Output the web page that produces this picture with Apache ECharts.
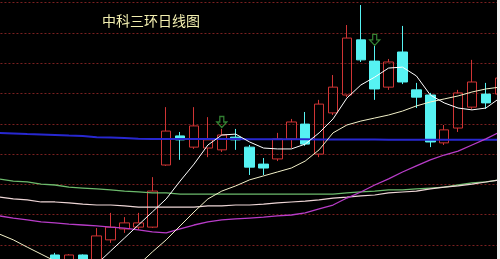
<!DOCTYPE html>
<html><head><meta charset="utf-8">
<script src="https://cdn.jsdelivr.net/npm/echarts@6/dist/echarts.min.js"></script>
<style>html,body{margin:0;padding:0;background:#000;}#c{width:500px;height:259px;}</style>
</head><body><div id="c"></div>
<script>
const days = ['D01','D02','D03','D04','D05','D06','D07','D08','D09','D10','D11','D12','D13','D14','D15','D16','D17','D18','D19','D20','D21','D22','D23','D24','D25','D26','D27','D28','D29','D30','D31','D32','D33','D34','D35','D36','D37'];
// [open, close, low, high]
const candles = ['-','-','-','-',
  [8.67,8.44,8.34,8.74],[8.44,8.67,8.34,8.70],[8.67,8.44,8.34,8.69],[8.44,9.30,8.34,9.56],
  [9.17,9.59,9.07,10.06],[9.53,9.73,9.40,9.92],[9.59,9.73,9.50,10.06],[9.59,10.78,9.56,11.24],
  [11.64,12.76,11.61,13.55],[12.60,12.47,11.81,12.73],[12.23,12.93,12.17,13.55],[12.20,12.47,11.90,13.22],
  [12.14,12.63,12.07,12.83],[12.56,12.47,12.14,12.83],[12.23,11.57,11.31,12.30],[11.67,11.54,11.31,11.87],
  [11.84,12.50,11.77,12.70],[12.50,13.06,12.20,13.16],[12.99,12.33,12.27,13.39],[12.00,13.65,11.90,13.79],
  [13.36,14.21,13.29,14.61],[13.95,15.83,13.88,16.26],[15.77,15.11,15.04,16.92],[15.07,14.15,13.79,15.57],
  [14.21,15.04,14.12,15.14],[15.37,14.38,14.31,16.23],[14.12,13.88,13.52,14.35],[13.95,12.40,12.23,14.02],
  [12.37,12.80,12.30,12.96],[12.86,14.02,12.73,14.12],[13.55,14.38,13.49,15.11],[13.98,13.69,13.49,14.35],
  [13.98,14.51,13.92,14.78]];
const ma5 = [8.24,8.24,8.24,8.24,8.31,8.31,8.34,8.37,8.80,9.23,9.66,10.09,10.52,11.11,11.67,12.30,12.63,12.66,12.40,12.20,12.17,12.17,12.33,12.70,13.16,13.85,14.28,14.54,14.84,14.87,14.58,13.95,13.69,13.52,13.46,13.52,13.85];
const ma10 = [9.36,9.17,8.93,8.70,8.47,8.31,8.17,8.11,8.11,8.14,8.34,8.77,9.17,9.63,10.09,10.52,10.78,10.95,11.15,11.28,11.41,11.54,11.77,12.14,12.70,12.96,13.09,13.19,13.29,13.42,13.59,13.72,13.82,13.92,14.05,14.15,14.21];
const maBlue = [12.70,12.68,12.66,12.65,12.63,12.61,12.60,12.56,12.55,12.53,12.51,12.50,12.50,12.50,12.50,12.50,12.50,12.50,12.49,12.49,12.49,12.49,12.49,12.48,12.48,12.48,12.48,12.48,12.47,12.47,12.47,12.47,12.47,12.47,12.47,12.47,12.47];
const maGreen = [11.18,11.11,11.08,11.01,10.98,10.91,10.88,10.85,10.82,10.78,10.75,10.72,10.72,10.68,10.68,10.68,10.68,10.68,10.68,10.68,10.68,10.68,10.68,10.68,10.68,10.72,10.75,10.78,10.82,10.82,10.85,10.88,10.91,10.98,11.05,11.08,11.15];
const maPink = [10.58,10.52,10.49,10.42,10.42,10.39,10.35,10.32,10.32,10.29,10.25,10.25,10.25,10.25,10.25,10.29,10.29,10.32,10.32,10.35,10.39,10.42,10.45,10.49,10.55,10.58,10.62,10.65,10.72,10.75,10.78,10.85,10.91,10.95,11.01,11.08,11.15];
const maPurple = [9.96,9.89,9.83,9.76,9.73,9.69,9.66,9.63,9.59,9.56,9.50,9.43,9.40,9.53,9.66,9.76,9.83,9.86,9.89,9.92,9.96,9.99,10.06,10.19,10.32,10.55,10.75,10.98,11.18,11.41,11.61,11.81,11.97,12.10,12.30,12.50,12.73];
const arrowDays = ['D17','D28'];
const arrowPrices = [13.06, 15.77];
const titleText = '中科三环日线图';

const chart = echarts.init(document.getElementById('c'), null, {renderer:'canvas'});
function ma(name, data, color, width){
  return {name:name, type:'line', data:data, showSymbol:false, symbol:'none', z:4,
    lineStyle:{color:color, width:width || 1}, silent:true};
}
chart.setOption({
  backgroundColor:'#000',
  animation:false,
  title:{text:titleText, left:97, top:9, textStyle:{color:'#f3efb0', fontSize:14, fontWeight:'normal', fontFamily:'"Noto Sans CJK SC", sans-serif'}},
  grid:{left:-7.55, right:-6.75, top:-27.7, bottom:-16.3, outerBoundsMode:'none'},
  xAxis:{type:'category', data:days, boundaryGap:true, axisLine:{show:false}, axisTick:{show:false}, axisLabel:{show:false}, splitLine:{show:false}},
  yAxis:{type:'value', min:8, max:18, interval:1, axisLine:{show:false}, axisTick:{show:false}, axisLabel:{show:false},
    splitLine:{show:true, lineStyle:{color:'#7a2020', type:[2,2], width:1}}},
  series:[
    {type:'candlestick', data:candles, barWidth:10, z:3,
      itemStyle:{color:'transparent', color0:'#56f2f2', borderColor:'#d03434', borderColor0:'#56f2f2', borderWidth:1}},
    ma('blue', maBlue, '#2828d0', 2),
    ma('green', maGreen, '#6cba6c', 1.3),
    ma('pink', maPink, '#eed6d6', 1.2),
    ma('purple', maPurple, '#b83cc8', 1.3),
    ma('ma10', ma10, '#f2f0c8', 1),
    ma('ma5', ma5, '#ffffff', 1),
    {type:'scatter', z:5, data:arrowDays.map((d,i)=>[d, arrowPrices[i]]),
      symbol:'path://M3,0 L7,0 L7,5 L10,5 L5,10 L0,5 L3,5 Z', symbolSize:[10,11],
      itemStyle:{color:'rgba(0,0,0,0)', borderColor:'#3fa03f', borderWidth:1.3}}
  ],
  graphic:[{type:'rect', right:0, top:0, z:100, shape:{width:3, height:259}, style:{fill:'#f0f0f0'}}]
});
</script></body></html>
